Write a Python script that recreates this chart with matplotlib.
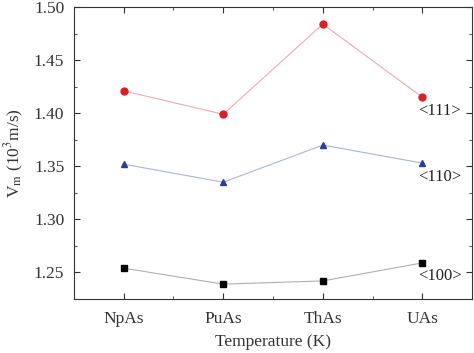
import matplotlib
matplotlib.use("Agg")
import matplotlib.pyplot as plt
from matplotlib.ticker import MultipleLocator

categories = ["NpAs", "PuAs", "ThAs", "UAs"]
v111 = [1.421, 1.399, 1.484, 1.415]
v110 = [1.352, 1.335, 1.370, 1.353]
v100 = [1.254, 1.239, 1.242, 1.259]
labels = ["<111>", "<110>", "<100>"]

plt.rcParams['font.family'] = ['Liberation Serif', 'DejaVu Serif']
plt.rcParams['mathtext.fontset'] = 'stix'

fig = plt.figure(figsize=(4.74, 3.53), dpi=100)
ax = fig.add_axes([0.156, 0.153, 0.840, 0.827])
x = list(range(len(categories)))

series = [(v111, 'o', '#d8202a', '#eeaab0'),
          (v110, '^', '#2a3f8f', '#aab4d4'),
          (v100, 's', '#000000', '#b0b0b0')]
for (vals, m, mc, lc), lab in zip(series, labels):
    ax.plot(x, vals, color=lc, lw=0.8, zorder=1)
    ax.plot(x, vals, ls='none', marker=m, ms=5, color=mc, zorder=2)
    ax.annotate(lab, (x[-1], vals[-1]), xytext=(-3, -4), textcoords='offset points',
                ha='left', va='top', fontsize=12, color='#222222')

ax.set_xlim(-0.5, 3.5)
ax.set_ylim(1.225, 1.50)
ax.set_xticks(x)
ax.set_xticklabels(categories)
ax.xaxis.set_minor_locator(MultipleLocator(0.5))
ax.yaxis.set_major_locator(MultipleLocator(0.05))
ax.yaxis.set_minor_locator(MultipleLocator(0.025))
ax.yaxis.set_major_formatter(matplotlib.ticker.FormatStrFormatter('%.2f'))
ax.tick_params(which='both', direction='in', top=True, right=True, labelsize=12.5, colors='#333333')
ax.tick_params(axis='x', which='major', length=4, pad=9)
ax.tick_params(axis='y', which='major', length=4, pad=7)
ax.tick_params(which='minor', length=2)
for s in ax.spines.values():
    s.set_color('#333333')
ax.set_xlabel("Temperature (K)", fontsize=12.5, color='#333333', labelpad=5)
ax.set_ylabel("V$_\\mathrm{m}$ (10$^3$m/s)", fontsize=12.5, color='#333333', labelpad=6)
fig.savefig("out.png", dpi=100)
